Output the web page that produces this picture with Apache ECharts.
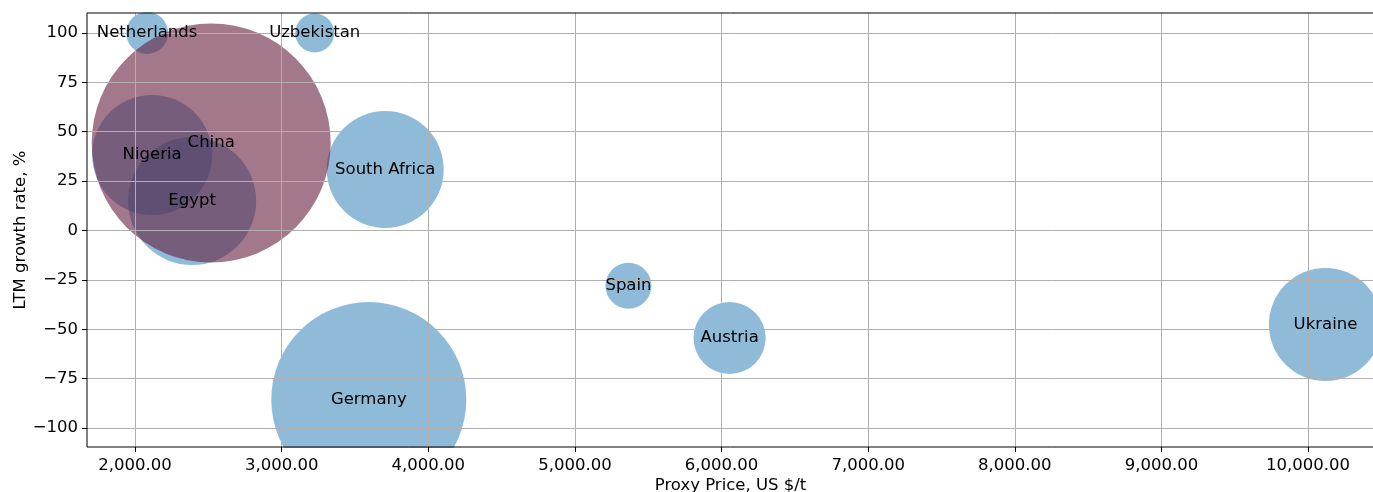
<!DOCTYPE html>
<html>
<head>
<meta charset="utf-8">
<script src="https://cdn.jsdelivr.net/npm/echarts@6/dist/echarts.min.js"></script>
<style>
  html, body { margin: 0; padding: 0; background: #fff; }
  #chart { width: 1373px; height: 492px; }
</style>
</head>
<body>
<div id="chart"></div>
<script>
// country bubbles: proxy price (US $/t), LTM growth (%), volume (bubble area)
const countries = ['Netherlands', 'Uzbekistan', 'Nigeria', 'Egypt', 'South Africa', 'Spain', 'Austria', 'Ukraine', 'Germany', 'China']
const prices = [2082, 3225, 2116, 2389, 3706, 5365, 6055, 10119, 3594, 2519]
const growth = [100, 100, 38.2, 14.9, 30.9, -28, -54.4, -47.6, -85.6, 44.3]
const volumes = [44, 38, 360, 410, 342, 53, 130, 320, 951, 1428]
const xTicks = [2000, 3000, 4000, 5000, 6000, 7000, 8000, 9000, 10000]
const yTicks = [-100, -75, -50, -25, 0, 25, 50, 75, 100]

const blue = 'rgba(31, 119, 180, 0.5)'
const china = 'rgba(100, 30, 60, 0.6)'
const font = 'DejaVu Sans'
const fs = 16.5

const points = countries.map((name, i) => ({
  name,
  value: [prices[i], growth[i], volumes[i]],
  itemStyle: { color: name === 'China' ? china : blue, opacity: 1 }
}))

const chart = echarts.init(document.getElementById('chart'))
chart.setOption({
  animation: false,
  grid: {
    left: 87,
    right: -1,
    top: 13,
    bottom: 45,
    outerBoundsMode: 'none',
    containLabel: false,
    show: true,
    borderColor: '#000',
    borderWidth: 1,
    z: 5
  },
  // white strip that trims bubbles hanging below the plot area
  graphic: [{
    type: 'rect',
    z: 3,
    silent: true,
    shape: { x: 0, y: 448, width: 1373, height: 44 },
    style: { fill: '#fff' }
  }],
  xAxis: {
    type: 'value',
    min: 1672,
    max: 10450,
    z: 4,
    name: 'Proxy Price, US $/t',
    nameLocation: 'middle',
    nameGap: 30,
    nameMoveOverlap: false,
    nameTextStyle: { fontFamily: font, fontSize: fs, color: '#000' },
    axisLine: { show: false, onZero: false },
    axisTick: { show: true, length: 5, lineStyle: { color: '#000' }, customValues: xTicks },
    axisLabel: {
      customValues: xTicks,
      margin: 10,
      fontFamily: font,
      fontSize: fs,
      color: '#000',
      formatter: v => v.toLocaleString('en-US', { minimumFractionDigits: 2, maximumFractionDigits: 2 })
    },
    splitLine: { show: true, lineStyle: { color: '#b0b0b0', width: 1 } }
  },
  yAxis: {
    type: 'value',
    min: -109.6,
    max: 110.1,
    z: 4,
    name: 'LTM growth rate, %',
    nameLocation: 'middle',
    nameGap: 58,
    nameMoveOverlap: false,
    nameTextStyle: { fontFamily: font, fontSize: fs, color: '#000' },
    axisLine: { show: false, onZero: false },
    axisTick: { show: true, length: 5, lineStyle: { color: '#000' }, customValues: yTicks },
    axisLabel: {
      customValues: yTicks,
      margin: 9,
      fontFamily: font,
      fontSize: fs,
      color: '#000',
      formatter: v => (v < 0 ? '\u2212' + Math.abs(v) : String(v))
    },
    splitLine: { show: true, lineStyle: { color: '#b0b0b0', width: 1 } }
  },
  series: [
    {
      type: 'scatter',
      z: 2,
      symbolSize: d => Math.sqrt(d[2] * 10) * 2,
      itemStyle: { opacity: 1 },
      data: points,
      label: { show: false },
      emphasis: { disabled: true }
    },
    {
      // labels only, drawn above the grid lines
      type: 'scatter',
      z: 6,
      symbolSize: 0,
      itemStyle: { opacity: 1 },
      data: points.map(p => ({ name: p.name, value: p.value })),
      label: {
        show: true,
        position: 'inside',
        formatter: p => p.name,
        fontFamily: font,
        fontSize: fs,
        color: '#000',
        opacity: 1
      },
      emphasis: { disabled: true }
    }
  ]
})
</script>
</body>
</html>
